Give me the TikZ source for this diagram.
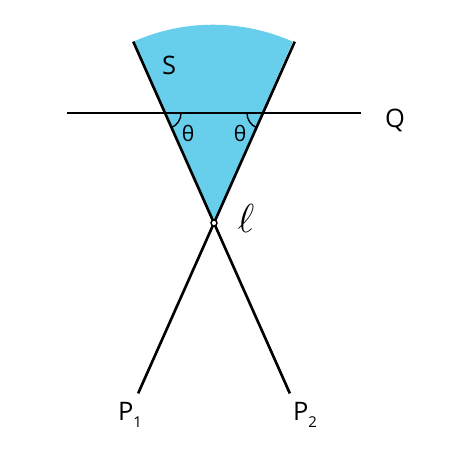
\documentclass[tikz,border=0pt]{standalone}
\usepackage{fontspec}
\setmainfont{Open Sans}
\definecolor{skyfill}{RGB}{103,206,236}
\newcommand{\lowsub}[1]{\raisebox{-0.55ex}{\fontsize{8.5}{10}\selectfont #1}}
\begin{document}
\begin{tikzpicture}[line width=1.5pt, font=\fontsize{14.5}{17}\selectfont]
        \useasboundingbox (-4.28,-4.78) rectangle (5.2,4.46);
        %% Vertex, ends and crossings
        \coordinate (O) at (0,0);
        \coordinate (A) at (114:3.97);
        \coordinate (B) at (66:3.97);
        \coordinate (P1) at (246:3.73);
        \coordinate (P2) at (294:3.73);
        \coordinate (Qa) at (-2.94,2.2);
        \coordinate (Qb) at (2.94,2.2);
        \coordinate (L) at (114:2.408);
        \coordinate (R) at (66:2.408);
        %% Sector S
        \fill[skyfill] (O) -- (A) arc[start angle=114,end angle=66,radius=3.92] -- cycle;
        %% Lines
        \draw (A) -- (P2);
        \draw (B) -- (P1);
        \draw (Qa) -- (Qb);
        %% Angles theta
        \draw[line width=0.8pt] ([shift={(0:0.32)}]L) arc[start angle=0,end angle=-66,radius=0.32];
        \draw[line width=0.8pt] ([shift={(180:0.32)}]R) arc[start angle=180,end angle=246,radius=0.32];
        \node[font=\fontsize{12}{14}\selectfont] (tl) at (-0.52,1.8) {θ};
        \node[font=\fontsize{12}{14}\selectfont] (tr) at (0.52,1.8) {θ};
        %% Point l
        \draw[line width=0.8pt,fill=white] (O) circle (0.06);
        \node[scale=1.6] (l) at (0.64,0.1) {$\ell$};
        %% Labels
        \node (s) at (-0.9,3.16) {S};
        \node (q) at (3.62,2.06) {Q};
        \node (p1) at (-1.68,-3.84) {P\lowsub{1}};
        \node (p2) at (1.82,-3.84) {P\lowsub{2}};
    \end{tikzpicture}
\end{document}
